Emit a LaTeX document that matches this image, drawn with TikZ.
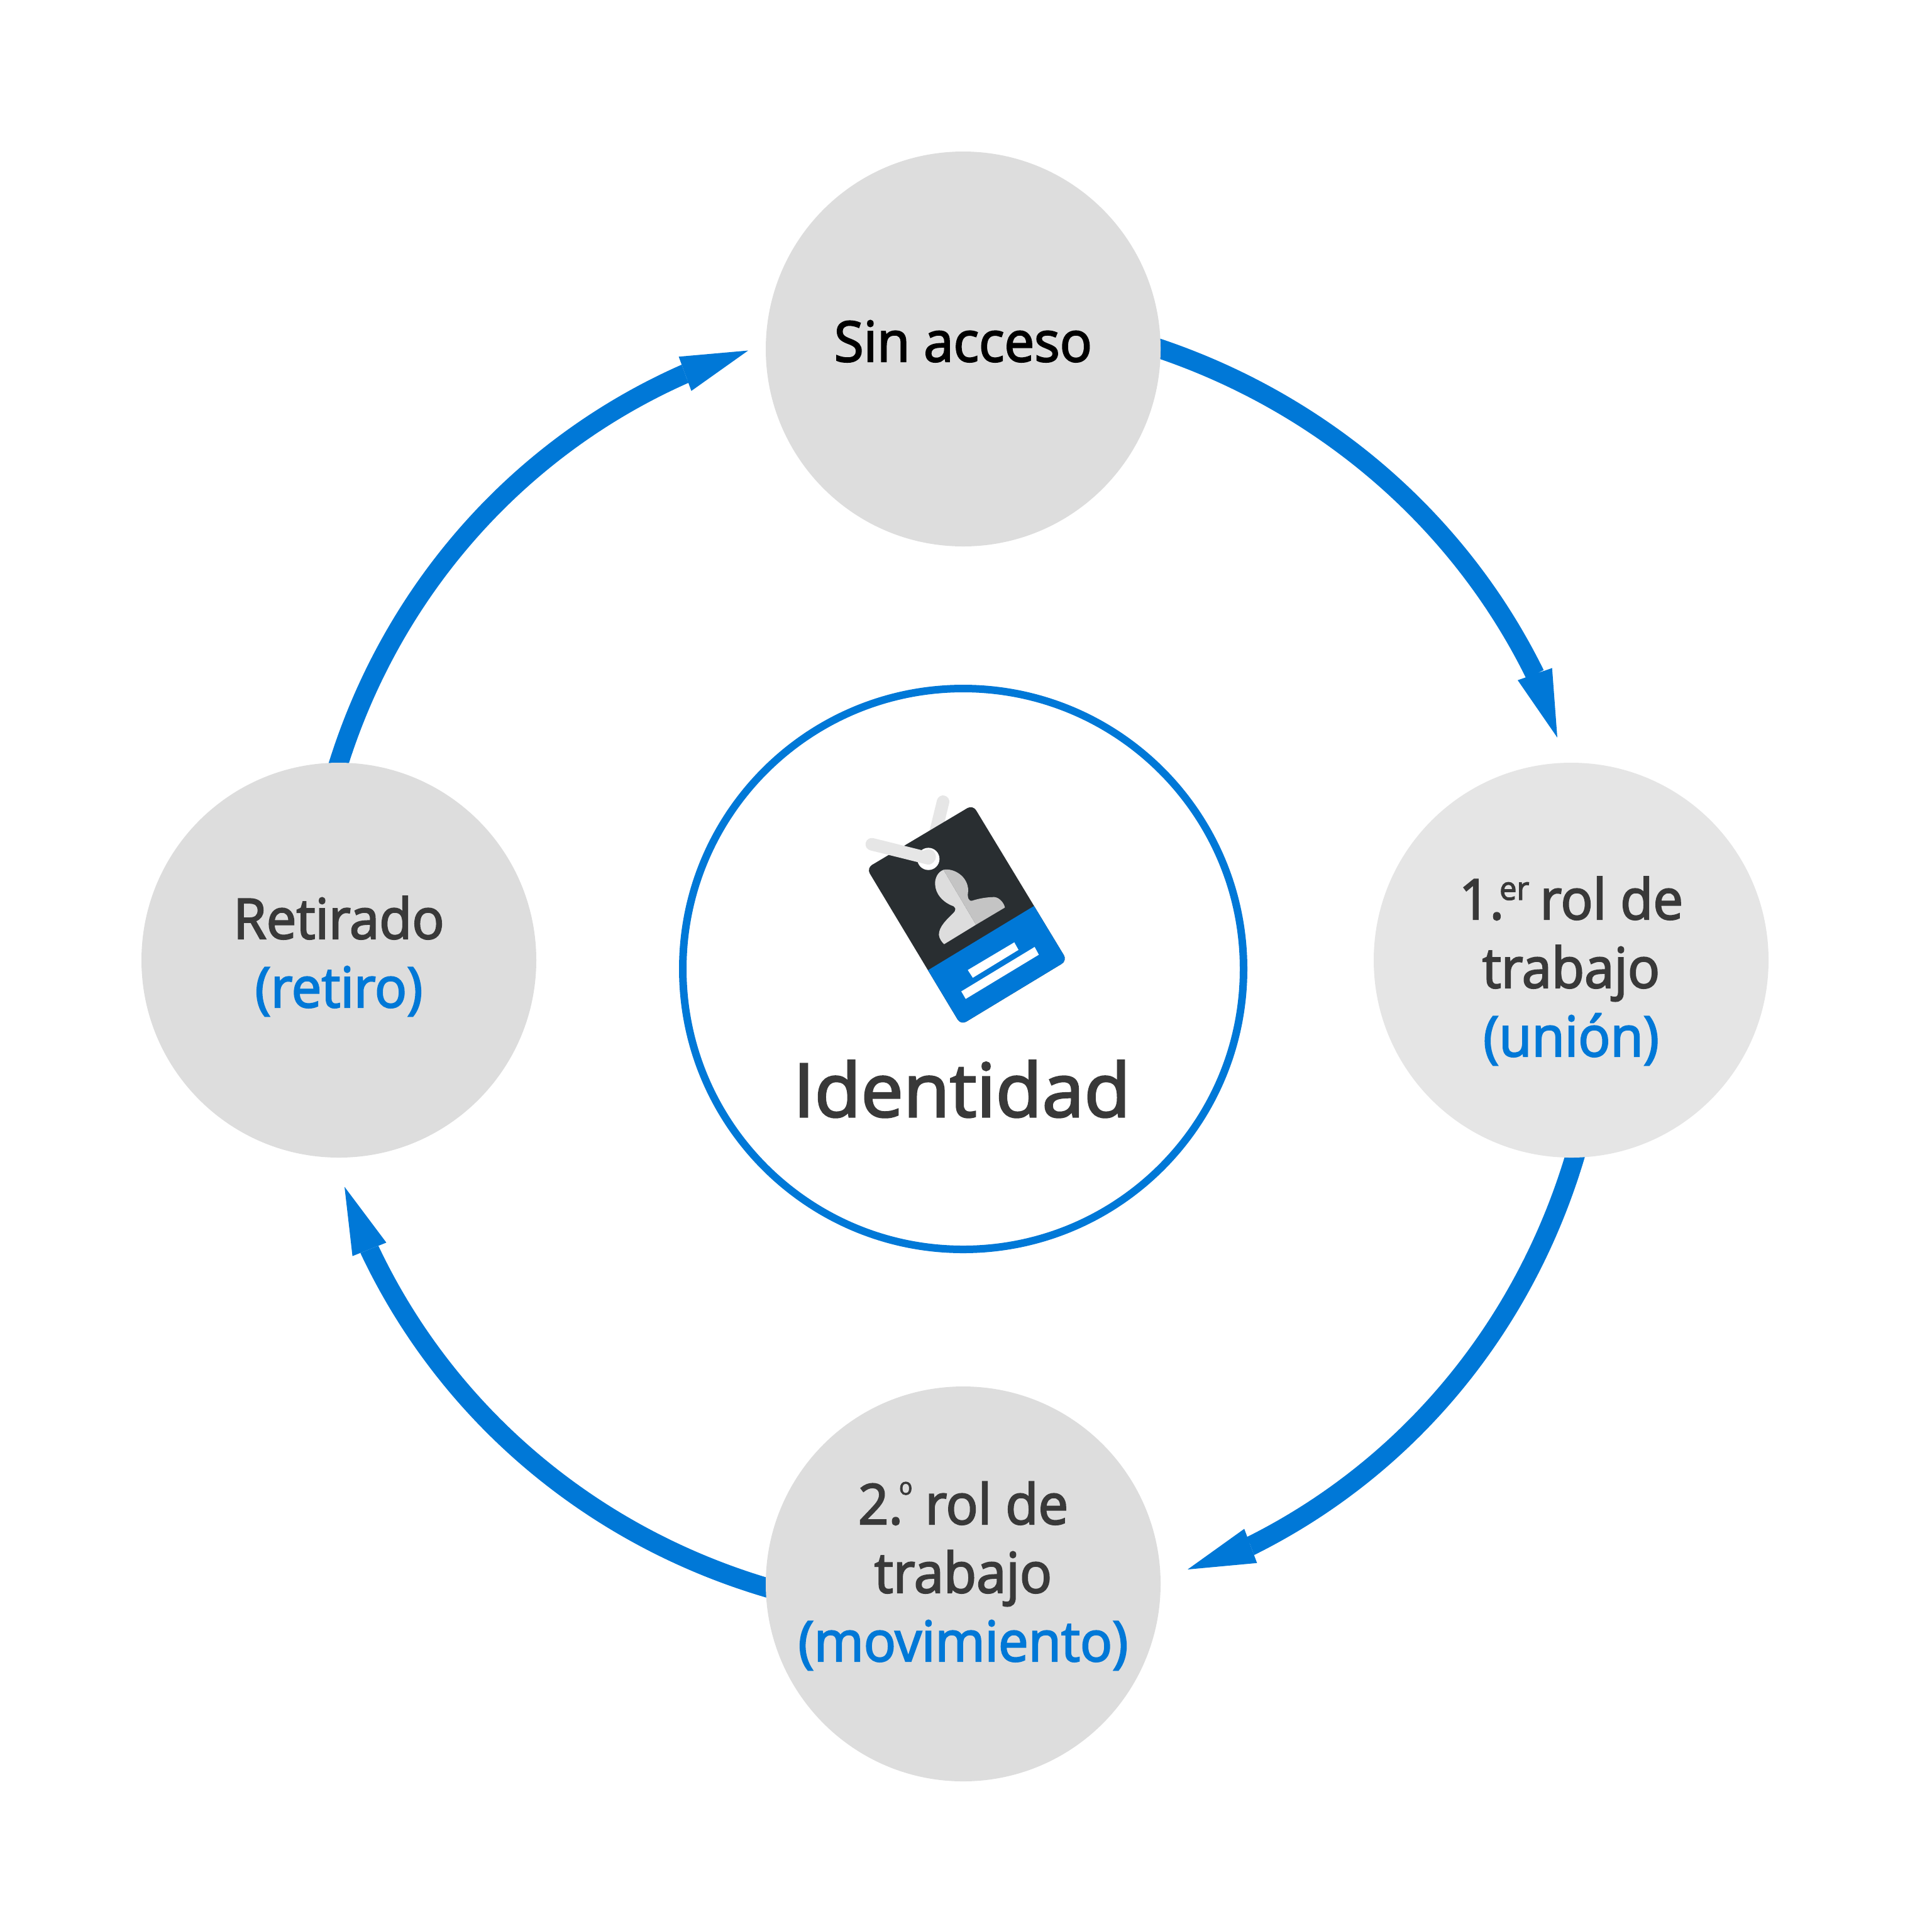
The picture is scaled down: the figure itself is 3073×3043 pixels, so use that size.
\documentclass[tikz,border=0pt]{standalone}
\usepackage{fontspec}
\setmainfont{Open Sans}[FakeBold=2.6,FakeStretch=0.955]
\newfontfamily\grande{Open Sans}[FakeBold=2.6,FakeStretch=1.02]
\usetikzlibrary{arrows.meta,backgrounds}
\definecolor{azul}{HTML}{0078D7}
\definecolor{tinta}{HTML}{393939}
\definecolor{gris}{HTML}{DDDDDD}
\definecolor{grisb}{HTML}{E5E5E5}
\definecolor{carbon}{HTML}{292E31}
\definecolor{cinta}{HTML}{E6E6E6}
\definecolor{sombra}{HTML}{C4C4C4}
\newcommand{\supi}[1]{\raisebox{15.5pt}{\fontsize{25.5}{25.5}\selectfont #1}}
\newcommand{\supo}[1]{\raisebox{23.5pt}{\fontsize{18.5}{18.5}\selectfont #1}}
\tikzset{
  etapa/.style={circle,fill=#1,minimum size=314pt,inner sep=0pt,outer sep=0pt},
  etapa/.default=gris,
  rotulo/.style={anchor=base,align=center,text=tinta,inner sep=0pt,outer sep=0pt,
    font=\fontsize{44.5}{54.5}\selectfont},
  flecha/.style={draw=azul,line width=15.4pt,
    -{Triangle[length=53.5pt,width=29pt,fill=azul,line width=0pt]}},
}
\begin{document}
\begin{tikzpicture}[x=0.5pt,y=-0.5pt]
\useasboundingbox (0,0) rectangle (3073,3043);
\node[etapa] (sin) at (1532,555) {};
\node[etapa=grisb] (uno) at (2499,1527) {};
\node[etapa] (dos) at (1532,2519) {};
\node[etapa] (ret) at (539,1527) {};
\node[circle,draw=azul,line width=6pt,minimum size=446pt,inner sep=0pt,outer sep=0pt] (iden) at (1532,1541) {};

\coordinate (b1) at (2441.5,1072.5);
\coordinate (t1) at (2477,1173);
\coordinate (b2) at (1989.5,2458.5);
\coordinate (t2) at (1889,2496);
\coordinate (b3) at (588,1988);
\coordinate (t3) at (548,1887.5);
\coordinate (b4) at (1089,594.7);
\coordinate (t4) at (1190,557.5);
\begin{scope}[on background layer]
\draw[flecha,shorten <=-4pt] (sin.-0.5) .. controls (2105,641) and (2321.5,828.5) .. (b1) -- (t1);
\draw[flecha,shorten <=-4pt] (uno.-89) .. controls (2426,2109) and (2240.5,2333.5) .. (b2) -- (t2);
\draw[flecha,shorten <=-4pt] (dos.181) .. controls (941,2444) and (711,2248) .. (b3) -- (t3);
\draw[flecha,shorten <=-4pt] (ret.north) .. controls (624,937) and (826,711) .. (b4) -- (t4);
\end{scope}

\node[rotulo,text=black] (tsin) at (1532,575) {Sin acceso};
\node[rotulo] (tuno1) at (2499,1462) {1.\kern-3.5pt\supi{er}\kern-2.5pt\ rol de};
\node[rotulo] (tuno2) at (2499,1571) {trabajo};
\node[rotulo,text=azul] (tuno3) at (2499,1680) {(unión)};
\node[rotulo] (tdos1) at (1532,2424) {2.\kern-3pt\supo{o}\kern-1pt\ rol de};
\node[rotulo] (tdos2) at (1532,2533) {trabajo};
\node[rotulo,text=azul] (tdos3) at (1532,2642) {(movimiento)};
\node[rotulo] (tret1) at (539,1493) {Retirado};
\node[rotulo,text=azul] (tret2) at (539,1602) {(retiro)};
\node[rotulo,font=\grande\fontsize{59}{70}\selectfont] (tiden) at (1530,1776) {Identidad};

% badge
\begin{scope}[shift={(1340,1230)},scale=1/3]
\draw[cinta,line width=10pt,line cap=round] (480,135) -- (420,380);
\fill[carbon,rounded corners=5pt] (115,452) -- (622,150) -- (1072,893) -- (565,1200) -- cycle;
\begin{scope}
\clip (403,942) -- (915,632) -- (1250,900) -- (800,1350) -- (400,1350) -- cycle;
\fill[azul,rounded corners=5pt] (115,452) -- (622,150) -- (1072,893) -- (565,1200) -- cycle;
\end{scope}
\fill[white] (410,408) circle[radius=53];
\draw[cinta,line width=10pt,line cap=round] (140,338) -- (410,405);
\fill[cinta] (410,397) circle[radius=36];
\fill[gris] (482,460) .. controls (455,470) and (440,500) .. (442,530) .. controls (445,575) and (475,610) .. (520,630) .. controls (540,635) and (545,650) .. (530,665) .. controls (500,695) and (460,730) .. (460,770) .. controls (462,790) and (475,805) .. (485,815) -- (637,722) -- cycle;
\fill[sombra] (482,460) .. controls (530,450) and (600,490) .. (600,560) .. controls (595,590) and (600,612) .. (620,607) .. controls (650,597) and (690,590) .. (725,590) .. controls (750,592) and (772,620) .. (775,640) -- (637,722) -- cycle;
\fill[white] (820,806) -- (840,842) -- (622,975) -- (598,938) -- cycle;
\fill[white] (917,828) -- (937,865) -- (588,1076) -- (567,1040) -- cycle;
\end{scope}
\end{tikzpicture}
\end{document}
